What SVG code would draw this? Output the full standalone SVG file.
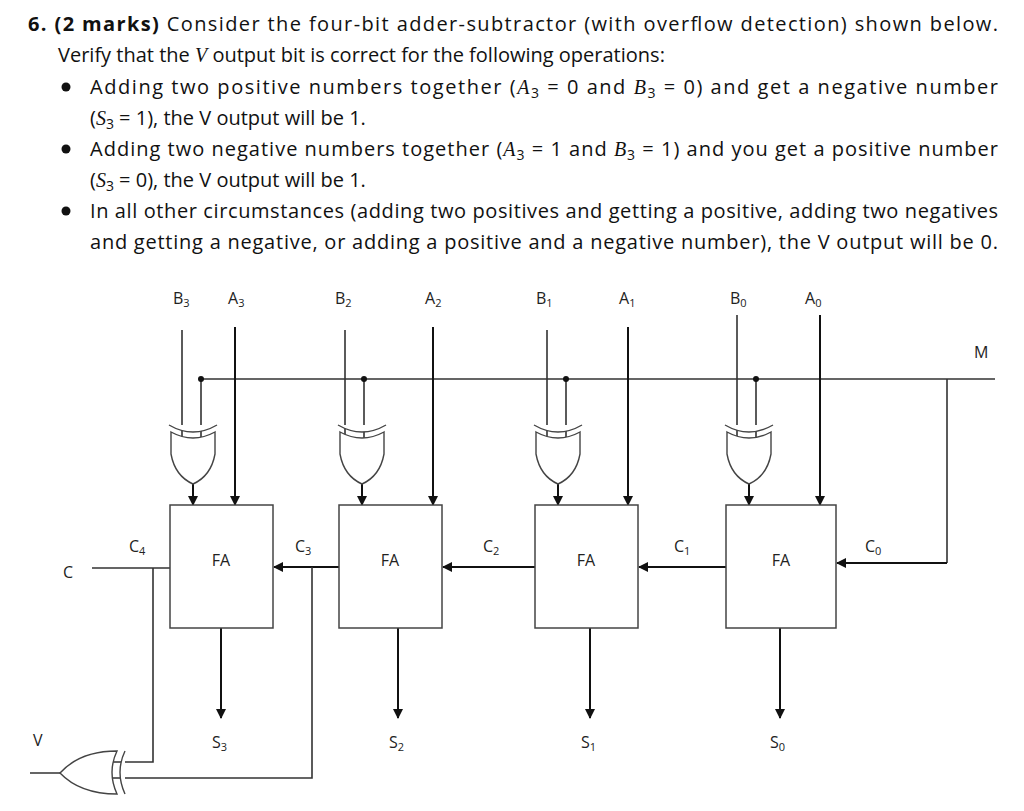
<svg xmlns="http://www.w3.org/2000/svg" width="1024" height="811" viewBox="0 0 1024 811">
<style>
.t{font-family:"Open Sans","Liberation Sans",sans-serif;font-size:20px;fill:#111}
.m{font-family:"Liberation Serif",serif;font-style:italic}
.l{font-family:"Open Sans","Liberation Sans",sans-serif;font-size:16px;fill:#222}
.w{stroke:#333;stroke-width:1.6;fill:none}
.a{stroke:#111;stroke-width:2;fill:none;marker-end:url(#ah)}
.box{fill:#fff;stroke:#444;stroke-width:1.5}
.g{fill:#fff;stroke:#444;stroke-width:1.4}
</style>
<defs>
<marker id="ah" markerWidth="10" markerHeight="10" refX="9" refY="5" orient="auto" markerUnits="userSpaceOnUse"><path d="M0,0 L10,5 L0,10 Z" fill="#111"/></marker>
<g id="xor">
<path class="g" d="M-24,-7 Q0,7 24,-7" fill="none"/>
<path class="g" d="M-22,0 Q0,12 22,0 L22,22 Q18,44 0,52 Q-18,44 -22,22 Z"/>
</g>
</defs>
<g id="text">
<text class="t" x="28" y="31" textLength="970"><tspan font-weight="bold">6. (2 marks)</tspan> Consider the four-bit adder-subtractor (with overflow detection) shown below.</text>
<text class="t" x="58" y="62">Verify that the <tspan class="m">V</tspan> output bit is correct for the following operations:</text>
<circle cx="66" cy="87" r="4.5" fill="#111"/>
<circle cx="66" cy="149" r="4.5" fill="#111"/>
<circle cx="66" cy="211" r="4.5" fill="#111"/>
<text class="t" x="90" y="94" textLength="908">Adding two positive numbers together (<tspan class="m">A</tspan><tspan font-size="14" dy="4">3</tspan><tspan dy="-4"> = 0 and </tspan><tspan class="m">B</tspan><tspan font-size="14" dy="4">3</tspan><tspan dy="-4"> = 0) and get a negative number</tspan></text>
<text class="t" x="90" y="125">(<tspan class="m">S</tspan><tspan font-size="14" dy="4">3</tspan><tspan dy="-4"> = 1), the V output will be 1.</tspan></text>
<text class="t" x="90" y="156" textLength="908">Adding two negative numbers together (<tspan class="m">A</tspan><tspan font-size="14" dy="4">3</tspan><tspan dy="-4"> = 1 and </tspan><tspan class="m">B</tspan><tspan font-size="14" dy="4">3</tspan><tspan dy="-4"> = 1) and you get a positive number</tspan></text>
<text class="t" x="90" y="187">(<tspan class="m">S</tspan><tspan font-size="14" dy="4">3</tspan><tspan dy="-4"> = 0), the V output will be 1.</tspan></text>
<text class="t" x="90" y="218" textLength="908">In all other circumstances (adding two positives and getting a positive, adding two negatives</text>
<text class="t" x="90" y="249" textLength="908">and getting a negative, or adding a positive and a negative number), the V output will be 0.</text>
</g>
<g id="labels" class="l">
<text x="173" y="304">B<tspan font-size="11" dy="3">3</tspan></text>
<text x="228" y="304">A<tspan font-size="11" dy="3">3</tspan></text>
<text x="335" y="304">B<tspan font-size="11" dy="3">2</tspan></text>
<text x="425" y="304">A<tspan font-size="11" dy="3">2</tspan></text>
<text x="536" y="304">B<tspan font-size="11" dy="3">1</tspan></text>
<text x="619" y="304">A<tspan font-size="11" dy="3">1</tspan></text>
<text x="730" y="304">B<tspan font-size="11" dy="3">0</tspan></text>
<text x="805" y="304">A<tspan font-size="11" dy="3">0</tspan></text>
<text x="974" y="358">M</text>
<text x="129" y="552">C<tspan font-size="11" dy="3">4</tspan></text>
<text x="295" y="552">C<tspan font-size="11" dy="3">3</tspan></text>
<text x="483" y="552">C<tspan font-size="11" dy="3">2</tspan></text>
<text x="674" y="552">C<tspan font-size="11" dy="3">1</tspan></text>
<text x="865" y="552">C<tspan font-size="11" dy="3">0</tspan></text>
<text x="63" y="578">C</text>
<text x="33" y="746">V</text>
<text x="212" y="748">S<tspan font-size="11" dy="3">3</tspan></text>
<text x="389" y="748">S<tspan font-size="11" dy="3">2</tspan></text>
<text x="581" y="748">S<tspan font-size="11" dy="3">1</tspan></text>
<text x="770" y="748">S<tspan font-size="11" dy="3">0</tspan></text>
</g>
<g id="connectors">
<path class="w" d="M201,379 H995 M947,379 V563"/>
<path class="a" d="M947,563 H837"/>
<path class="w" d="M182,330 V438 M201,379 V438 M345,330 V438 M364,379 V438 M547,330 V438 M566,379 V438 M737,315 V438 M756,379 V438"/>
<circle cx="201" cy="379" r="3" fill="#111"/><circle cx="364" cy="379" r="3" fill="#111"/><circle cx="566" cy="379" r="3" fill="#111"/><circle cx="756" cy="379" r="3" fill="#111"/>
<path class="a" d="M235,327 V505"/><path class="a" d="M433,327 V505"/><path class="a" d="M628,327 V505"/><path class="a" d="M820,315 V505"/>
<path class="a" d="M193,484 V505"/><path class="a" d="M362,484 V505"/><path class="a" d="M558,484 V505"/><path class="a" d="M749,484 V505"/>
<path class="a" d="M339,567 H274"/><path class="a" d="M535,567 H443"/><path class="a" d="M726,567 H639"/>
<path class="w" d="M92,568 H170 M153,568 V762 H112 M312,567 V778 H112 M30,773 H62"/>
<path class="a" d="M221,628 V718"/><path class="a" d="M398,628 V718"/><path class="a" d="M590,628 V718"/><path class="a" d="M780,628 V718"/>
</g>
<use href="#xor" x="193" y="432"/>
<use href="#xor" x="362" y="432"/>
<use href="#xor" x="558" y="432"/>
<use href="#xor" x="749" y="432"/>
<g id="vxor">
<path class="g" d="M125,751 Q115,772 125,794" fill="none"/>
<path class="g" d="M117,751 Q107,772 117,794 Q80,794 60,773 Q80,751 117,751 Z"/>
</g>
<g id="FA3"><rect class="box" x="170" y="505" width="103" height="123"/><text class="l" x="221" y="566" text-anchor="middle">FA</text></g>
<g id="FA2"><rect class="box" x="339" y="505" width="103" height="123"/><text class="l" x="390" y="566" text-anchor="middle">FA</text></g>
<g id="FA1"><rect class="box" x="535" y="505" width="103" height="123"/><text class="l" x="586" y="566" text-anchor="middle">FA</text></g>
<g id="FA0"><rect class="box" x="726" y="505" width="110" height="123"/><text class="l" x="781" y="566" text-anchor="middle">FA</text></g>
</svg>
